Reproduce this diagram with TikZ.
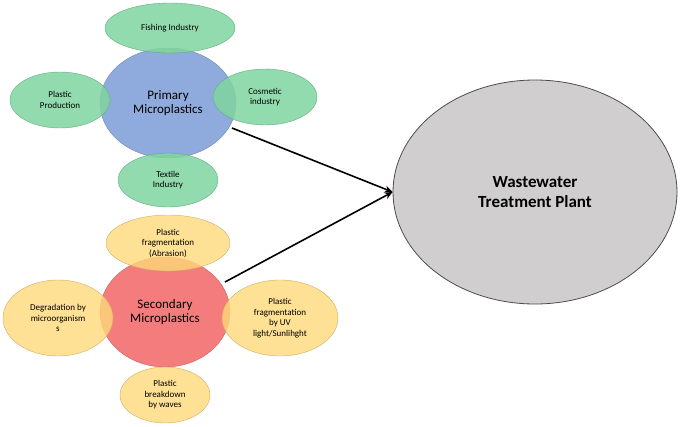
\documentclass[tikz,border=0pt]{standalone}
\usepackage{fontspec}
\setmainfont{Carlito}
\usetikzlibrary{shapes.geometric,arrows.meta}
\definecolor{pblue}{HTML}{8FAADC}
\definecolor{sred}{HTML}{F47C7C}
\definecolor{sgreen}{HTML}{7FD5A0}
\definecolor{syel}{HTML}{FFD97A}
\definecolor{wgray}{HTML}{D0CECE}
\begin{document}
\begin{tikzpicture}[x=1pt,y=-1pt,
  el/.style={ellipse,inner sep=0pt,align=center,font=\fontsize{9}{10.5}\selectfont},
  big/.style={el,font=\fontsize{13}{14}\selectfont},
  sg/.style={el,fill=sgreen,draw=sgreen!80!black,line width=0.4pt,fill opacity=0.85,text opacity=1},
  sy/.style={el,fill=syel,draw=syel!80!black,line width=0.4pt,fill opacity=0.8,text opacity=1},
  arr/.style={-{Stealth[length=8pt,width=7pt]},line width=1.6pt}]
\useasboundingbox (0,0) rectangle (685,426);
\node[big,fill=pblue,draw=pblue!80!black,minimum width=136pt,minimum height=110pt] (pm) at (168,103) {};
\node[sg,minimum width=130pt,minimum height=50pt] (fi) at (170,28) {Fishing Industry};
\node[sg,minimum width=100pt,minimum height=56pt] (pp) at (60,100) {Plastic\\Production};
\node[sg,minimum width=104pt,minimum height=56pt] (ci) at (265,97) {Cosmetic\\industry};
\node[sg,minimum width=100pt,minimum height=54pt] (ti) at (168,180) {Textile\\Industry};
\node[big] at (168,103) {Primary\\Microplastics};

\node[big,fill=sred,draw=sred!80!black,minimum width=130pt,minimum height=110pt] (sm) at (165,312) {};
\node[sy,minimum width=124pt,minimum height=56pt] (pf) at (168,243) {Plastic\\fragmentation\\(Abrasion)};
\node[sy,minimum width=110pt,minimum height=76pt] (dm) at (58,318) {Degradation by\\microorganism\\s};
\node[sy,minimum width=116pt,minimum height=76pt] (uv) at (280,318) {Plastic\\fragmentation\\by UV\\light/Sunlihght};
\node[sy,minimum width=90pt,minimum height=56pt] (bw) at (165,395) {Plastic\\breakdown\\by waves};
\node[big] at (165,312) {Secondary\\Microplastics};

\node[el,fill=wgray,draw=black!70,line width=0.8pt,minimum width=284pt,minimum height=224pt,font=\bfseries\fontsize{17}{20}\selectfont] (wtp) at (535,192) {Wastewater\\Treatment Plant};
\coordinate (a1) at (232,128);
\coordinate (a2) at (225,282);
\draw[arr] (a1) -- (wtp.west);
\draw[arr] (a2) -- (wtp.west);
\end{tikzpicture}
\end{document}
